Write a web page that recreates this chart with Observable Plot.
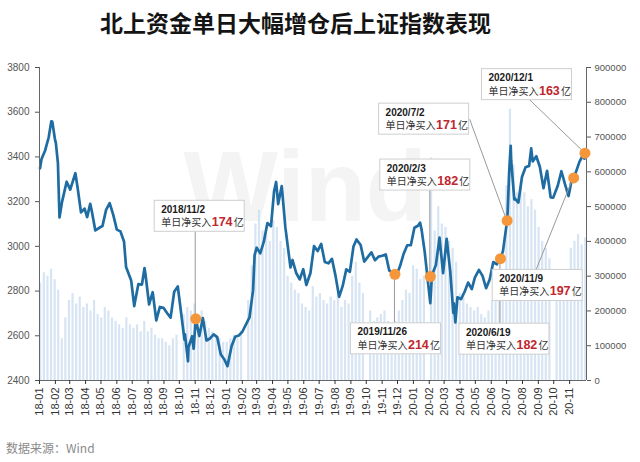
<!DOCTYPE html>
<html><head><meta charset="utf-8">
<script src="https://cdn.jsdelivr.net/npm/d3@7"></script>
<script src="https://cdn.jsdelivr.net/npm/@observablehq/plot@0.6"></script>
<style>
body{margin:0;background:#fff;width:640px;height:462px;overflow:hidden;}
#title{height:44px;line-height:44px;padding-left:100px;font-family:"Noto Sans CJK SC";font-weight:bold;font-size:23px;color:#141414;white-space:nowrap;}
#chart{height:394px;}
#chart svg{display:block;}
#source{height:20px;line-height:20px;padding-left:6px;font-family:"Noto Sans CJK SC";font-size:12px;color:#8a8a8a;}
</style></head><body>
<div id="title">北上资金单日大幅增仓后上证指数表现</div>
<div id="chart"></div>
<div id="source">数据来源：Wind</div>
<script>
// 上证指数 (left axis)
const sse = [
["2018-01-02",3349],["2018-01-05",3391],["2018-01-12",3429],["2018-01-19",3488],["2018-01-24",3559],["2018-01-26",3558],["2018-01-31",3481],["2018-02-02",3462],["2018-02-06",3371],["2018-02-09",3129],["2018-02-14",3199],["2018-02-23",3289],["2018-03-02",3254],["2018-03-12",3327],["2018-03-16",3269],["2018-03-23",3152],["2018-03-30",3169],["2018-04-04",3131],["2018-04-10",3190],["2018-04-13",3159],["2018-04-20",3071],["2018-04-27",3082],["2018-05-04",3091],["2018-05-11",3163],["2018-05-18",3193],["2018-05-25",3141],["2018-06-01",3075],["2018-06-08",3067],["2018-06-15",3022],["2018-06-19",2908],["2018-06-22",2890],["2018-06-29",2847],["2018-07-05",2733],["2018-07-06",2747],["2018-07-13",2831],["2018-07-20",2829],["2018-07-25",2903],["2018-07-27",2873],["2018-08-03",2740],["2018-08-10",2795],["2018-08-17",2669],["2018-08-24",2729],["2018-08-31",2725],["2018-09-07",2702],["2018-09-14",2681],["2018-09-21",2797],["2018-09-28",2821],["2018-10-11",2583],["2018-10-12",2606],["2018-10-18",2486],["2018-10-19",2550],["2018-10-26",2598],["2018-10-29",2542],["2018-11-02",2676],["2018-11-09",2599],["2018-11-16",2679],["2018-11-23",2579],["2018-11-30",2588],["2018-12-07",2606],["2018-12-14",2594],["2018-12-21",2516],["2018-12-28",2494],
["2019-01-03",2464],["2019-01-11",2553],["2019-01-18",2596],["2019-01-25",2601],["2019-02-01",2618],["2019-02-15",2682],["2019-02-22",2804],["2019-02-25",2961],["2019-03-01",2994],["2019-03-08",2969],["2019-03-15",3021],["2019-03-22",3104],["2019-03-29",3090],["2019-04-04",3246],["2019-04-08",3288],["2019-04-12",3189],["2019-04-19",3270],["2019-04-26",3086],["2019-05-06",2906],["2019-05-10",2939],["2019-05-17",2882],["2019-05-24",2852],["2019-05-31",2898],["2019-06-06",2827],["2019-06-14",2881],["2019-06-21",3001],["2019-06-28",2979],["2019-07-05",3011],["2019-07-12",2930],["2019-07-19",2924],["2019-07-26",2944],["2019-08-02",2868],["2019-08-09",2774],["2019-08-16",2823],["2019-08-23",2897],["2019-08-30",2886],["2019-09-06",2999],["2019-09-12",3031],["2019-09-20",3006],["2019-09-27",2932],["2019-10-11",2973],["2019-10-18",2938],["2019-10-25",2954],["2019-11-01",2958],["2019-11-08",2964],["2019-11-15",2891],["2019-11-22",2885],["2019-11-29",2871],["2019-12-06",2912],["2019-12-13",2967],["2019-12-20",3005],["2019-12-27",3005],["2019-12-31",3050],
["2020-01-03",3083],["2020-01-10",3092],["2020-01-14",3106],["2020-01-17",3075],["2020-01-23",2977],["2020-02-03",2746],["2020-02-04",2783],["2020-02-06",2866],["2020-02-07",2876],["2020-02-14",2917],["2020-02-21",3039],["2020-02-28",2880],["2020-03-06",3034],["2020-03-13",2887],["2020-03-19",2702],["2020-03-20",2745],["2020-03-23",2660],["2020-03-27",2772],["2020-04-03",2764],["2020-04-10",2797],["2020-04-17",2838],["2020-04-24",2809],["2020-04-30",2860],["2020-05-08",2895],["2020-05-15",2868],["2020-05-22",2813],["2020-05-29",2852],["2020-06-05",2930],["2020-06-12",2920],["2020-06-19",2945],["2020-06-24",2980],["2020-07-02",3115],["2020-07-03",3152],["2020-07-06",3332],["2020-07-09",3450],["2020-07-10",3383],["2020-07-16",3210],["2020-07-17",3214],["2020-07-24",3196],["2020-07-31",3310],["2020-08-07",3354],["2020-08-14",3360],["2020-08-18",3438],["2020-08-21",3380],["2020-08-28",3403],["2020-09-04",3355],["2020-09-11",3260],["2020-09-18",3338],["2020-09-25",3219],["2020-09-30",3218],["2020-10-09",3272],["2020-10-16",3336],["2020-10-23",3278],["2020-10-30",3225],["2020-11-03",3272],["2020-11-06",3312],["2020-11-09",3306],["2020-11-13",3330],["2020-11-20",3377],["2020-11-27",3408],["2020-11-30",3392],["2020-12-01",3417],["2020-12-03",3425]
];

// weekly bar values (right axis), one per Friday week from 2018-01-05 to 2020-12-04
const barValues = [
// 2018
280000,310000,300000,320000, 290000,260000,120000,180000, 230000,250000,220000,240000,210000, 220000,200000,230000,190000,
180000,210000,200000,180000, 170000,160000,150000,180000,160000, 150000,160000,140000,170000, 140000,150000,130000,120000,120000,
110000,100000,120000,130000, 0,190000,210000,200000, 220000,180000,200000,170000,150000, 140000,130000,120000,110000,
// 2019
110000,120000,130000,120000, 140000,0,230000,330000, 450000,490000,430000,420000,400000, 460000,440000,400000,380000,
300000,280000,260000,250000,220000, 210000,200000,270000,240000, 250000,230000,220000,240000, 230000,250000,210000,230000,220000,
300000,340000,280000,250000, 0,200000,170000,180000, 190000,200000,170000,160000,170000, 200000,230000,260000,250000,
// 2020
330000,320000,290000,300000,0, 640000,430000,500000,450000, 440000,400000,380000,340000, 250000,240000,220000,210000,
200000,210000,190000,180000,200000, 230000,250000,280000,300000, 560000,780000,620000,540000,560000, 540000,500000,520000,490000,
440000,400000,380000,350000, 0,290000,310000,280000,300000, 380000,400000,420000,390000, 410000
];

// annotated days: 北上资金单日净买入
const eventDates = ["2018-11-02","2019-11-26","2020-02-03","2020-06-19","2020-07-02","2020-11-09","2020-12-01"];
const eventIndex = [2676, 2875, 2865, 2945, 3115, 3306, 3417];
const eventBuy = [174, 214, 182, 182, 171, 197, 163];

const leftTicks = [2400,2600,2800,3000,3200,3400,3600,3800];
const rightTicks = [0,100000,200000,300000,400000,500000,600000,700000,800000,900000];

// layout of callout boxes (pixel offsets from the dot)
const boxOffset = [[-41,-118],[-44,49],[-50,-117],[-41,65],[-128,-117],[-81,92],[-103,-84]];
const leaderEnd = [[0,-87],[0,49],[0,-87],[0,65],[-37,-101],[-37,92],[-56,-54]];

const parse = d3.utcParse("%Y-%m-%d");
const yDomain = [leftTicks[0], leftTicks[leftTicks.length-1]];
const rDomain = [rightTicks[0], rightTicks[rightTicks.length-1]];
const toIdx = v => yDomain[0] + (v - rDomain[0]) / (rDomain[1]-rDomain[0]) * (yDomain[1]-yDomain[0]);
const fromIdx = v => rDomain[0] + (v - yDomain[0]) / (yDomain[1]-yDomain[0]) * (rDomain[1]-rDomain[0]);
const xDomain = [parse("2018-01-01"), parse("2020-12-04")];

const sseData = sse.map(([d,v]) => ({date: parse(d), value: v}));
const barWeeks = d3.utcFriday.range(parse("2018-01-05"), parse("2020-12-05"));
const bars = barWeeks.map((d,i) => ({date: d, value: barValues[i] ?? 0}));
const events = eventDates.map((d,i) => ({date: parse(d), value: eventIndex[i], buy: eventBuy[i]}));
const monthTicks = d3.utcMonth.range(parse("2018-01-01"), parse("2020-12-01"));

const plot = Plot.plot({
  width: 640, height: 394,
  marginLeft: 39, marginRight: 54, marginTop: 23, marginBottom: 58,
  x: {type: "utc", domain: xDomain},
  y: {domain: yDomain},
  style: {fontFamily: "'Liberation Sans', Arial, sans-serif", background: "transparent", overflow: "visible"},
  marks: [
    Plot.text(["Wind"], {frameAnchor: "top-left", dx: 144, dy: 153, lineAnchor: "bottom", textAnchor: "start", fontSize: 100, fontWeight: "bold", fill: "#f4f4f4"}),
    Plot.rectY(bars, {x: "date", interval: d3.utcWeek, y1: () => yDomain[0], y2: d => toIdx(d.value), fill: "#c9dbef", fillOpacity: 0.75, insetLeft: 0.7, insetRight: 0.7, clip: true}),
    Plot.line(sseData, {x: "date", y: "value", stroke: "#1e6ca1", strokeWidth: 2.7, strokeLinejoin: "round"}),
    Plot.ruleX([xDomain[0]], {stroke: "#666"}),
    Plot.ruleX([xDomain[1]], {stroke: "#666"}),
    Plot.ruleY([yDomain[0]], {stroke: "#666"}),
    Plot.axisY(leftTicks, {anchor: "left", tickSize: 4, tickPadding: 6, fontSize: 10, color: "#555", tickFormat: d => String(d), label: null}),
    Plot.axisY(rightTicks.map(toIdx), {anchor: "right", tickSize: 4, tickPadding: 4, fontSize: 9.5, color: "#555", tickFormat: d => String(Math.round(fromIdx(d))), label: null}),
    Plot.axisX(monthTicks, {anchor: "bottom", tickFormat: d3.utcFormat("%y-%m"), tickRotate: -90, tickSize: 4, tickPadding: 3, fontSize: 11, color: "#333", label: null}),
    Plot.dot(events, {x: "date", y: "value", r: 5.5, fill: "#f5963a"})
  ]
});

// callouts positioned with the plot's own scales
const sx = plot.scale("x"), sy = plot.scale("y");
const fmt = d3.utcFormat("%Y/%-m/%-d");
const g = d3.create("svg:g").attr("aria-label", "callouts").attr("text-anchor", "start");
events.forEach((e, i) => {
  const px = sx.apply(e.date), py = sy.apply(e.value);
  const [bx, by] = boxOffset[i], [lx, ly] = leaderEnd[i];
  g.append("line").attr("x1", px).attr("y1", py).attr("x2", px + lx).attr("y2", py + ly)
    .attr("stroke", "#9a9a9a").attr("stroke-width", 1);
  const b = g.append("g").attr("transform", `translate(${px + bx},${py + by})`);
  b.append("rect").attr("width", 90).attr("height", 31).attr("fill", "#fff").attr("stroke", "#cfcfcf");
  b.append("text").attr("x", 7).attr("y", 12.5).attr("font-size", 10).attr("font-weight", "bold")
    .attr("text-anchor", "start").attr("fill", "#1a1a1a").text(fmt(e.date));
  b.append("text").attr("x", 7).attr("y", 26).attr("font-family", "'Noto Sans CJK SC'")
    .attr("text-anchor", "start").attr("font-size", 10).attr("fill", "#333").text("单日净买入");
  b.append("text").attr("x", 57.5).attr("y", 26).attr("font-family", "'Liberation Sans', Arial")
    .attr("text-anchor", "start").attr("font-weight", "bold").attr("font-size", 12.5).attr("fill", "#c0262d").text(e.buy);
  b.append("text").attr("x", 79.5).attr("y", 26).attr("font-family", "'Noto Sans CJK SC'")
    .attr("text-anchor", "start").attr("font-size", 10).attr("fill", "#333").text("亿");
});
const dotG = plot.querySelector('g[aria-label="dot"]');
if (dotG) plot.insertBefore(g.node(), dotG); else plot.appendChild(g.node());

document.getElementById("chart").appendChild(plot);
</script>
</body></html>
